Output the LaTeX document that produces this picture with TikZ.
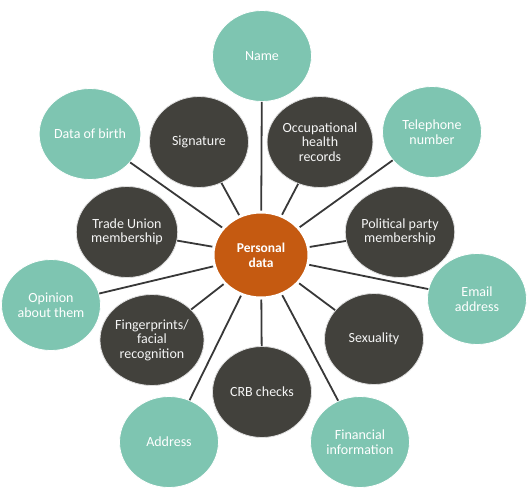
\documentclass[tikz,border=0pt]{standalone}
\usepackage{fontspec}
\setmainfont{Carlito}
\usetikzlibrary{shapes.geometric}
\definecolor{leaf}{HTML}{7EC5B1}
\definecolor{slate}{HTML}{42413C}
\definecolor{hub}{HTML}{C55A11}
\definecolor{spokeink}{HTML}{383838}
\tikzset{
  every node/.style={font=\fontsize{14}{14.5}\selectfont,align=center},
  bubble/.style={ellipse,minimum width=99pt,minimum height=91pt,inner sep=0pt},
  leafbub/.style={bubble,fill=leaf,text=white,draw=white,line width=0.8pt},
  darkbub/.style={bubble,fill=slate,text=white!92!gray,draw=white!75!gray,line width=0.8pt},
  hubbub/.style={bubble,fill=hub,draw=white,line width=3pt,minimum width=96pt,minimum height=86pt,
    text=white,font=\fontsize{13.5}{15}\selectfont\bfseries},
  spoke/.style={draw=spokeink,line width=1.8pt},
}

\begin{document}
\begin{tikzpicture}[x=1pt,y=-1pt]
\useasboundingbox (0,0) rectangle (531,496);

% hub
\node[hubbub] (pd) at (261,255) {Personal\\data};

% outer ring
\node[leafbub] (name) at (262,56) {Name};
\node[leafbub] (tel) at (432,132) {Telephone\\number};
\node[leafbub] (email) at (477,299) {Email\\address};
\node[leafbub] (fin) at (360,442) {Financial\\information};
\node[leafbub] (addr) at (169,442) {Address};
\node[leafbub] (opin) at (51,305) {Opinion\\about them};
\node[leafbub] (dob) at (90,134) {Data of birth};

% inner ring
\node[darkbub] (sig) at (199,142) {Signature};
\node[darkbub] (occ) at (320,142) {Occupational\\health\\records};
\node[darkbub] (pol) at (400,232) {Political party\\membership};
\node[darkbub] (sex) at (374,339) {Sexuality};
\node[darkbub] (crb) at (262,392) {CRB checks};
\node[darkbub] (fing) at (152,340) {Fingerprints/\\facial\\recognition};
\node[darkbub] (trade) at (127,232) {Trade Union\\membership};

% spokes
\foreach \n in {name,tel,email,fin,addr,opin,dob,sig,occ,pol,sex,crb,fing,trade}
  \draw[spoke] (pd) -- (\n);

\end{tikzpicture}
\end{document}
